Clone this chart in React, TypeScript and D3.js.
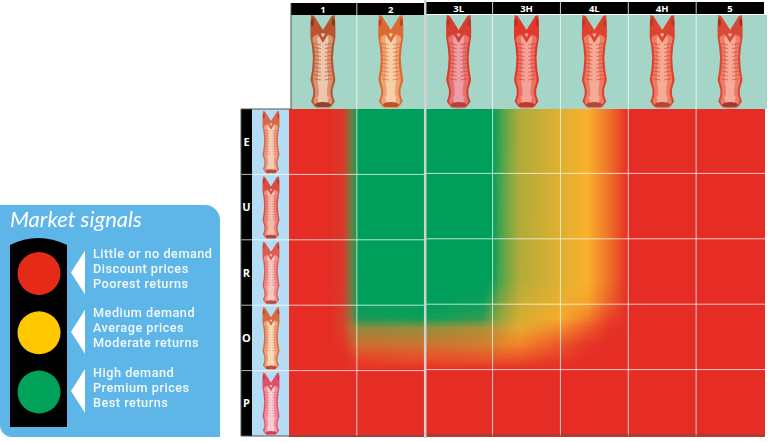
import * as d3 from "d3";
import { useEffect, useRef } from "react";

const fatClasses = ["1", "2", "3L", "3H", "4L", "4H", "5"];
const conformation = ["E", "U", "R", "O", "P"];

// knots of the price surface, in column / row units
const colKnots = [0, 0.6, 0.8, 0.92, 1.02, 2, 2.85, 3, 3.1, 3.25, 3.4, 4, 4.4, 4.7, 5, 7];
const rowKnots = [0, 2.6, 2.95, 3.2, 3.35, 3.6, 3.85, 4, 5];

// share of "high demand" at each knot
const greenShare = [
    [0, 0, 0.05, 0.55, 1, 1, 1, 1, 0.78, 0.5, 0.3, 0.1, 0, 0, 0, 0],
    [0, 0, 0.05, 0.55, 1, 1, 1, 1, 0.72, 0.48, 0.28, 0.1, 0, 0, 0, 0],
    [0, 0, 0.06, 0.5, 1, 1, 0.97, 0.75, 0.5, 0.36, 0.2, 0.05, 0, 0, 0, 0],
    [0, 0, 0.1, 0.4, 0.9, 0.95, 0.8, 0.55, 0.42, 0.28, 0.15, 0, 0, 0, 0, 0],
    [0, 0, 0.05, 0.25, 0.4, 0.4, 0.3, 0.25, 0.2, 0.14, 0.08, 0, 0, 0, 0, 0],
    [0, 0, 0, 0.1, 0.14, 0.14, 0.12, 0.08, 0.05, 0.02, 0, 0, 0, 0, 0, 0],
    [0, 0, 0, 0, 0, 0, 0, 0, 0, 0, 0, 0, 0, 0, 0, 0],
    [0, 0, 0, 0, 0, 0, 0, 0, 0, 0, 0, 0, 0, 0, 0, 0],
    [0, 0, 0, 0, 0, 0, 0, 0, 0, 0, 0, 0, 0, 0, 0, 0],
];

// share of "medium demand" at each knot
const amberShare = [
    [0, 0, 0.05, 0.15, 0, 0, 0, 0, 0.22, 0.5, 0.7, 0.9, 1, 0.55, 0, 0],
    [0, 0, 0.05, 0.15, 0, 0, 0, 0, 0.28, 0.52, 0.72, 0.9, 1, 0.55, 0, 0],
    [0, 0, 0.05, 0.15, 0, 0, 0.03, 0.22, 0.45, 0.62, 0.8, 0.95, 0.9, 0.42, 0, 0],
    [0, 0, 0.1, 0.2, 0.05, 0.05, 0.15, 0.4, 0.55, 0.7, 0.85, 0.95, 0.62, 0.18, 0, 0],
    [0, 0, 0.1, 0.3, 0.35, 0.4, 0.5, 0.58, 0.65, 0.78, 0.88, 0.7, 0.36, 0.06, 0, 0],
    [0, 0, 0.05, 0.2, 0.38, 0.42, 0.5, 0.55, 0.6, 0.64, 0.66, 0.32, 0.06, 0, 0, 0],
    [0, 0, 0, 0.05, 0.14, 0.22, 0.26, 0.26, 0.26, 0.25, 0.24, 0.07, 0, 0, 0, 0],
    [0, 0, 0, 0, 0, 0, 0, 0, 0, 0, 0, 0, 0, 0, 0, 0],
    [0, 0, 0, 0, 0, 0, 0, 0, 0, 0, 0, 0, 0, 0, 0, 0],
];

const legendTitle = "Market signals";
const signalColors = ["#e52b17", "#ffc800", "#00a25a"];
const signalText = [
    ["Little or no demand", "Discount prices", "Poorest returns"],
    ["Medium demand", "Average prices", "Moderate returns"],
    ["High demand", "Premium prices", "Best returns"],
];

// half width of a carcass down its length: [position, half width]
const carcassOutline: [number, number][] = [
    [0, 0.95], [0.12, 1], [0.24, 1], [0.34, 0.88], [0.46, 0.8], [0.58, 0.86],
    [0.7, 1], [0.8, 0.78], [0.86, 0.78], [0.93, 0.95], [0.98, 0.68], [1, 0.45],
];

const colCarcass = [
    { edge: "#b8552f", body: "#eec6ac", dark: "#7c2e16" },
    { edge: "#dd6a32", body: "#f9cfa8", dark: "#b03c1a" },
    { edge: "#d5412d", body: "#ee9ca6", dark: "#a8342a" },
    { edge: "#e0372a", body: "#f4a196", dark: "#b02a20" },
    { edge: "#de432e", body: "#f6ab94", dark: "#a8382a" },
    { edge: "#de432e", body: "#f6ab94", dark: "#a8382a" },
    { edge: "#da4835", body: "#f6aa9a", dark: "#8e2c22" },
];
const rowCarcass = [
    { edge: "#d9674a", body: "#f6cdb6", dark: "#a83a22" },
    { edge: "#d8503f", body: "#f5bcae", dark: "#a8302a" },
    { edge: "#dc5c50", body: "#f6c6c0", dark: "#b03a30" },
    { edge: "#d96a3e", body: "#fad9b8", dark: "#b03a22" },
    { edge: "#e0506a", body: "#f8cdd0", dark: "#c82a40" },
];

const x = d3.scaleLinear().domain([0, 7]).range([289, 764]);
const y = d3.scaleLinear().domain([0, 5]).range([109, 436]);
const colBand = d3.scaleBand().domain(fatClasses).range([289, 764]);
const rowBand = d3.scaleBand().domain(conformation).range([109, 436]);

const red = d3.rgb("#e52d26");
const amber = d3.rgb("#f8b12c");
const green = d3.rgb("#009e5b");

function sampleSurface(table: number[][], cx: number, cy: number) {
    const i = Math.max(1, Math.min(colKnots.length - 1, d3.bisectRight(colKnots, cx)));
    const j = Math.max(1, Math.min(rowKnots.length - 1, d3.bisectRight(rowKnots, cy)));
    const tx = (cx - colKnots[i - 1]) / (colKnots[i] - colKnots[i - 1]);
    const ty = (cy - rowKnots[j - 1]) / (rowKnots[j] - rowKnots[j - 1]);
    const top = d3.interpolateNumber(table[j - 1][i - 1], table[j - 1][i])(tx);
    const bottom = d3.interpolateNumber(table[j][i - 1], table[j][i])(tx);
    return d3.interpolateNumber(top, bottom)(ty);
}

function mixColor(g: number, a: number) {
    const r = Math.max(0, 1 - g - a);
    return `rgb(${red.r * r + amber.r * a + green.r * g},${red.g * r + amber.g * a + green.g * g},${red.b * r + amber.b * a + green.b * g})`;
}

function drawCarcass(svg: any, cx: number, top: number, w: number, h: number, c: any) {
    const sy = d3.scaleLinear().domain([0, 1]).range([top, top + h]);
    const outline = d3.line<[number, number]>()
        .x(d => d[0])
        .y(d => d[1])
        .curve(d3.curveLinearClosed);
    const smooth = d3.line().curve(d3.curveCatmullRomClosed);
    const side = (k: number, dir: number) =>
        carcassOutline.map(p => [cx + dir * p[1] * w * k, sy(p[0])] as [number, number]);
    const shape = [
        ...side(1, 1),
        ...side(1, -1).reverse(),
        [cx - w * 0.7, sy(0.01)],
        [cx, sy(0.16)],
        [cx + w * 0.7, sy(0.01)],
    ] as [number, number][];
    const g = svg.append("g").attr("filter", "url(#soft)");

    g.append("path").attr("d", outline(shape)).attr("fill", c.edge);

    const innerShape = (k: number) =>
        [[cx, sy(0.2)], ...side(k, 1).slice(2), ...side(k, -1).slice(2).reverse()] as [number, number][];
    g.append("path")
        .attr("d", smooth(innerShape(0.8)))
        .attr("fill", d3.interpolateRgb(c.edge, c.body)(0.55));
    g.append("path")
        .attr("d", smooth(innerShape(0.42)))
        .attr("fill", c.body);

    // ribs
    d3.range(0.32, 0.74, 0.042).forEach(t => {
        [-1, 1].forEach(dir => {
            g.append("line")
                .attr("x1", cx + dir * w * 0.16).attr("x2", cx + dir * w * 0.72)
                .attr("y1", sy(t)).attr("y2", sy(t - 0.012))
                .attr("stroke", c.edge).attr("stroke-width", h * 0.012).attr("opacity", 0.6);
        });
    });

    // shoulder cross
    g.append("path")
        .attr("d", `M${cx - w * 0.62},${sy(0.13)}L${cx},${sy(0.27)}L${cx + w * 0.62},${sy(0.13)}`)
        .attr("fill", "none").attr("stroke", c.edge).attr("stroke-width", h * 0.03);

    // dark horns and hocks
    [-1, 1].forEach(dir => {
        g.append("ellipse")
            .attr("cx", cx + dir * w * 0.85).attr("cy", sy(0.08))
            .attr("rx", w * 0.12).attr("ry", h * 0.04)
            .attr("fill", c.dark).attr("opacity", 0.75);
    });
    g.append("ellipse")
        .attr("cx", cx).attr("cy", sy(0.965))
        .attr("rx", w * 0.62).attr("ry", h * 0.03)
        .attr("fill", c.dark).attr("opacity", 0.85);
    g.append("ellipse")
        .attr("cx", cx).attr("cy", sy(0.89))
        .attr("rx", w * 0.5).attr("ry", h * 0.035)
        .attr("fill", c.body).attr("opacity", 0.6);
}

function drawGrid(svg: any) {
    const step = 2;
    const cells: { px: number; py: number }[] = [];
    d3.range(289, 765, step).forEach(px => {
        d3.range(109, 436, step).forEach(py => cells.push({ px, py }));
    });
    svg.append("g").attr("shape-rendering", "crispEdges")
        .selectAll("rect").data(cells).join("rect")
        .attr("x", (d: any) => d.px)
        .attr("y", (d: any) => d.py)
        .attr("width", step)
        .attr("height", step)
        .attr("fill", (d: any) => {
            const cx = x.invert(d.px + step / 2);
            const cy = y.invert(d.py + step / 2);
            return mixColor(sampleSurface(greenShare, cx, cy), sampleSurface(amberShare, cx, cy));
        });

    // teal strip, headers and the row strip
    svg.append("rect").attr("x", x(0) + 2).attr("y", 15).attr("width", 476).attr("height", y(0) - 15).attr("fill", "#a5d5c7");
    svg.append("rect").attr("x", 252).attr("y", y(0)).attr("width", x(0) - 252).attr("height", y(5) - y(0)).attr("fill", "#b5dcf5");
    svg.append("rect").attr("x", 241).attr("y", y(0)).attr("width", 11).attr("height", y(5) - y(0)).attr("fill", "#000");

    fatClasses.forEach((c, i) => {
        const shift = i >= 2 ? -1 : 0;
        const left = i === 0 ? x(0) + 2 : colBand(c)!;
        svg.append("rect")
            .attr("x", left).attr("y", 3 + shift)
            .attr("width", colBand(c)! + colBand.bandwidth() - left).attr("height", 12)
            .attr("fill", "#000");
        svg.append("text")
            .attr("x", colBand(c)! + colBand.bandwidth() / 2).attr("y", 12.5 + shift)
            .attr("text-anchor", "middle")
            .attr("font-family", "Open Sans").attr("font-weight", 700).attr("font-size", 9.5)
            .attr("fill", "#fff")
            .text(c);
        drawCarcass(svg, colBand(c)! + colBand.bandwidth() / 2, 15, 12.5, 93, colCarcass[i]);
    });

    conformation.forEach((c, i) => {
        svg.append("text")
            .attr("x", 246.5).attr("y", rowBand(c)! + rowBand.bandwidth() / 2 + 4)
            .attr("text-anchor", "middle")
            .attr("font-family", "Open Sans").attr("font-weight", 700).attr("font-size", 11)
            .attr("fill", "#fff")
            .text(c);
        drawCarcass(svg, 271, rowBand(c)! + 2, 8.5, rowBand.bandwidth() - 3, rowCarcass[i]);
    });

    // white lines over everything
    const lines = svg.append("g").attr("stroke", "#fff").attr("stroke-opacity", 0.72).attr("stroke-width", 1);
    d3.range(1, 7).filter(i => i !== 2).forEach(i => {
        lines.append("line").attr("x1", x(i)).attr("x2", x(i)).attr("y1", 2).attr("y2", y(5));
    });
    d3.range(1, 5).forEach(i => {
        lines.append("line").attr("x1", 241).attr("x2", x(2)).attr("y1", y(i)).attr("y2", y(i));
        lines.append("line").attr("x1", x(2)).attr("x2", 765).attr("y1", y(i) - 1).attr("y2", y(i) - 1);
    });

    // frame
    svg.append("path")
        .attr("d", `M${x(0) + 2},3V${y(0)}H241V${y(5)}H${x(2)}M${x(2) + 2},${y(5) - 1}H765`)
        .attr("fill", "none").attr("stroke", "#555").attr("stroke-width", 1);
    svg.append("line")
        .attr("x1", x(2) + 0.5).attr("x2", x(2) + 0.5).attr("y1", 0).attr("y2", 438)
        .attr("stroke", "#d2d2d2").attr("stroke-width", 2.5);
}

function drawLegend(svg: any) {
    svg.append("path")
        .attr("d", "M0,205H205A15,15 0 0 1 220,220V437H12A12,12 0 0 1 0,425Z")
        .attr("fill", "#5eb6e8");
    svg.append("text")
        .attr("x", 10).attr("y", 227)
        .attr("font-family", "Lato").attr("font-style", "italic").attr("font-size", 22)
        .attr("fill", "#fff")
        .attr("filter", "url(#softText)")
        .text(legendTitle);

    // the light's housing
    svg.append("path")
        .attr("d", "M10,245Q38,231 67,245V427H10Z")
        .attr("fill", "#000");

    const lightY = d3.scalePoint<number>().domain([0, 1, 2]).range([273.5, 392]);
    signalColors.forEach((color, i) => {
        const cy = lightY(i)!;
        svg.append("circle").attr("cx", 39).attr("cy", cy).attr("r", 21.5).attr("fill", color);
        svg.append("path")
            .attr("d", `M71,${cy - 1}L85,${cy - 23}V${cy + 21}Z`)
            .attr("fill", "#fff");
        signalText[i].forEach((line, k) => {
            svg.append("text")
                .attr("x", 93).attr("y", cy - 15.5 + k * 15)
                .attr("font-family", "Roboto").attr("font-weight", 500).attr("font-size", 12.7)
                .attr("letter-spacing", 0.5)
                .attr("fill", "#fff").attr("fill-opacity", 0.92)
                .attr("filter", "url(#softText)")
                .text(line);
        });
    });
}

export default function App() {
    const ref = useRef<SVGSVGElement>(null);
    useEffect(() => {
        const svg = d3.select(ref.current);
        svg.selectAll("*").remove();
        const defs = svg.append("defs");
        defs.append("filter").attr("id", "soft")
            .append("feGaussianBlur").attr("stdDeviation", 0.7);
        defs.append("filter").attr("id", "softText")
            .append("feGaussianBlur").attr("stdDeviation", 0.3);
        svg.append("rect").attr("width", 768).attr("height", 442).attr("fill", "#fff");
        drawGrid(svg);
        drawLegend(svg);
    }, []);
    return <svg ref={ref} width={768} height={442} style={{ position: "absolute", left: 0, top: 0 }} />;
}
